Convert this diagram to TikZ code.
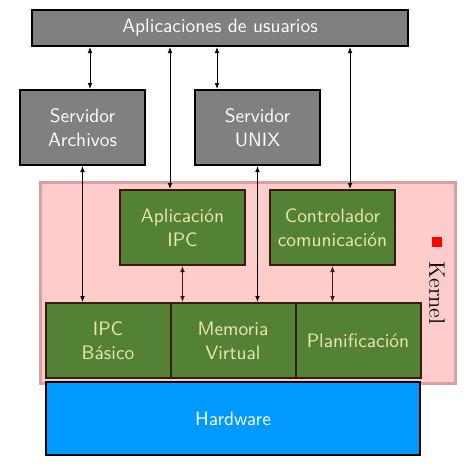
\documentclass[tikz,border=0pt]{standalone}
\usetikzlibrary{positioning,arrows.meta}
\definecolor{boxgray}{HTML}{808080}
\definecolor{kgreen}{HTML}{548235}
\definecolor{kbrown}{HTML}{3B1A10}
\definecolor{ktext}{HTML}{EDE6B0}
\definecolor{kpink}{HTML}{FFCCCC}
\definecolor{kpinkline}{HTML}{D9A0A0}
\definecolor{hwblue}{HTML}{0099FF}

\begin{document}
\begin{tikzpicture}[x=0.5pt, y=-0.5pt,
      font=\sffamily\fontsize{9.7}{12}\selectfont,
      userbox/.style={draw=black, fill=boxgray, text=white, line width=1pt,
          align=center, minimum width=62.5pt, minimum height=37.5pt},
      kbox/.style={draw=kbrown, fill=kgreen, text=ktext, line width=1pt,
          align=center, minimum width=62.5pt, minimum height=37.5pt},
      hwbox/.style={draw=black, fill=hwblue, text=white, line width=1pt,
          minimum width=187pt, minimum height=36.5pt},
      link/.style={{Latex[length=3pt,width=2.4pt]}-{Latex[length=3pt,width=2.4pt]},
          line width=0.5pt}]
      \useasboundingbox (0,0) rectangle (474,463);

      % kernel area
      \draw[fill=kpink, draw=kpinkline, line width=1.5pt] (40,182) rectangle (455,383);
      \node (kmark) [fill=red, minimum size=5pt, inner sep=0pt] at (437,242) {};
      \node (klabel) [rotate=-90, font=\rmfamily\fontsize{11.2}{13}\selectfont] at (437,293) {Kernel};

      % user level
      \node (apps) [userbox, minimum width=188pt, minimum height=18pt] at (220,28) {Aplicaciones de usuarios};
      \node (srvarch) [userbox] at (82.5,127.5) {Servidor\\Archivos};
      \node (srvunix) [userbox] at (257.5,127.5) {Servidor\\UNIX};

      % kernel level
      \node (appipc) [kbox] at (182.5,227.5) {Aplicación\\IPC};
      \node (ctrl) [kbox] at (332.5,227.5) {Controlador\\comunicación};
      \node (ipcb) [kbox] at (108,340.5) {IPC\\Básico};
      \node (memv) [kbox, right=-\pgflinewidth of ipcb] {Memoria\\Virtual};
      \node (plan) [kbox, right=-\pgflinewidth of memv] {Planificación};

      \node (hw) [hwbox, below=1pt of memv] {Hardware};

      % connectors
      \draw[link] ([xshift=3.75pt]srvarch.north) -- ([xshift=3.75pt]srvarch.north |- apps.south);
      \draw[link] ([xshift=-20.25pt]srvunix.north) -- ([xshift=-20.25pt]srvunix.north |- apps.south);
      \draw[link] ([xshift=-6.25pt]appipc.north) -- ([xshift=-6.25pt]appipc.north |- apps.south);
      \draw[link] ([xshift=8.75pt]ctrl.north) -- ([xshift=8.75pt]ctrl.north |- apps.south);
      \draw[link] (srvarch.south) -- (srvarch.south |- ipcb.north);
      \draw[link] (srvunix.south) -- (srvunix.south |- memv.north);
      \draw[link, draw=kbrown] (appipc.south) -- (appipc.south |- memv.north);
      \draw[link, draw=kbrown] (ctrl.south) -- (ctrl.south |- plan.north);
\end{tikzpicture}
\end{document}
